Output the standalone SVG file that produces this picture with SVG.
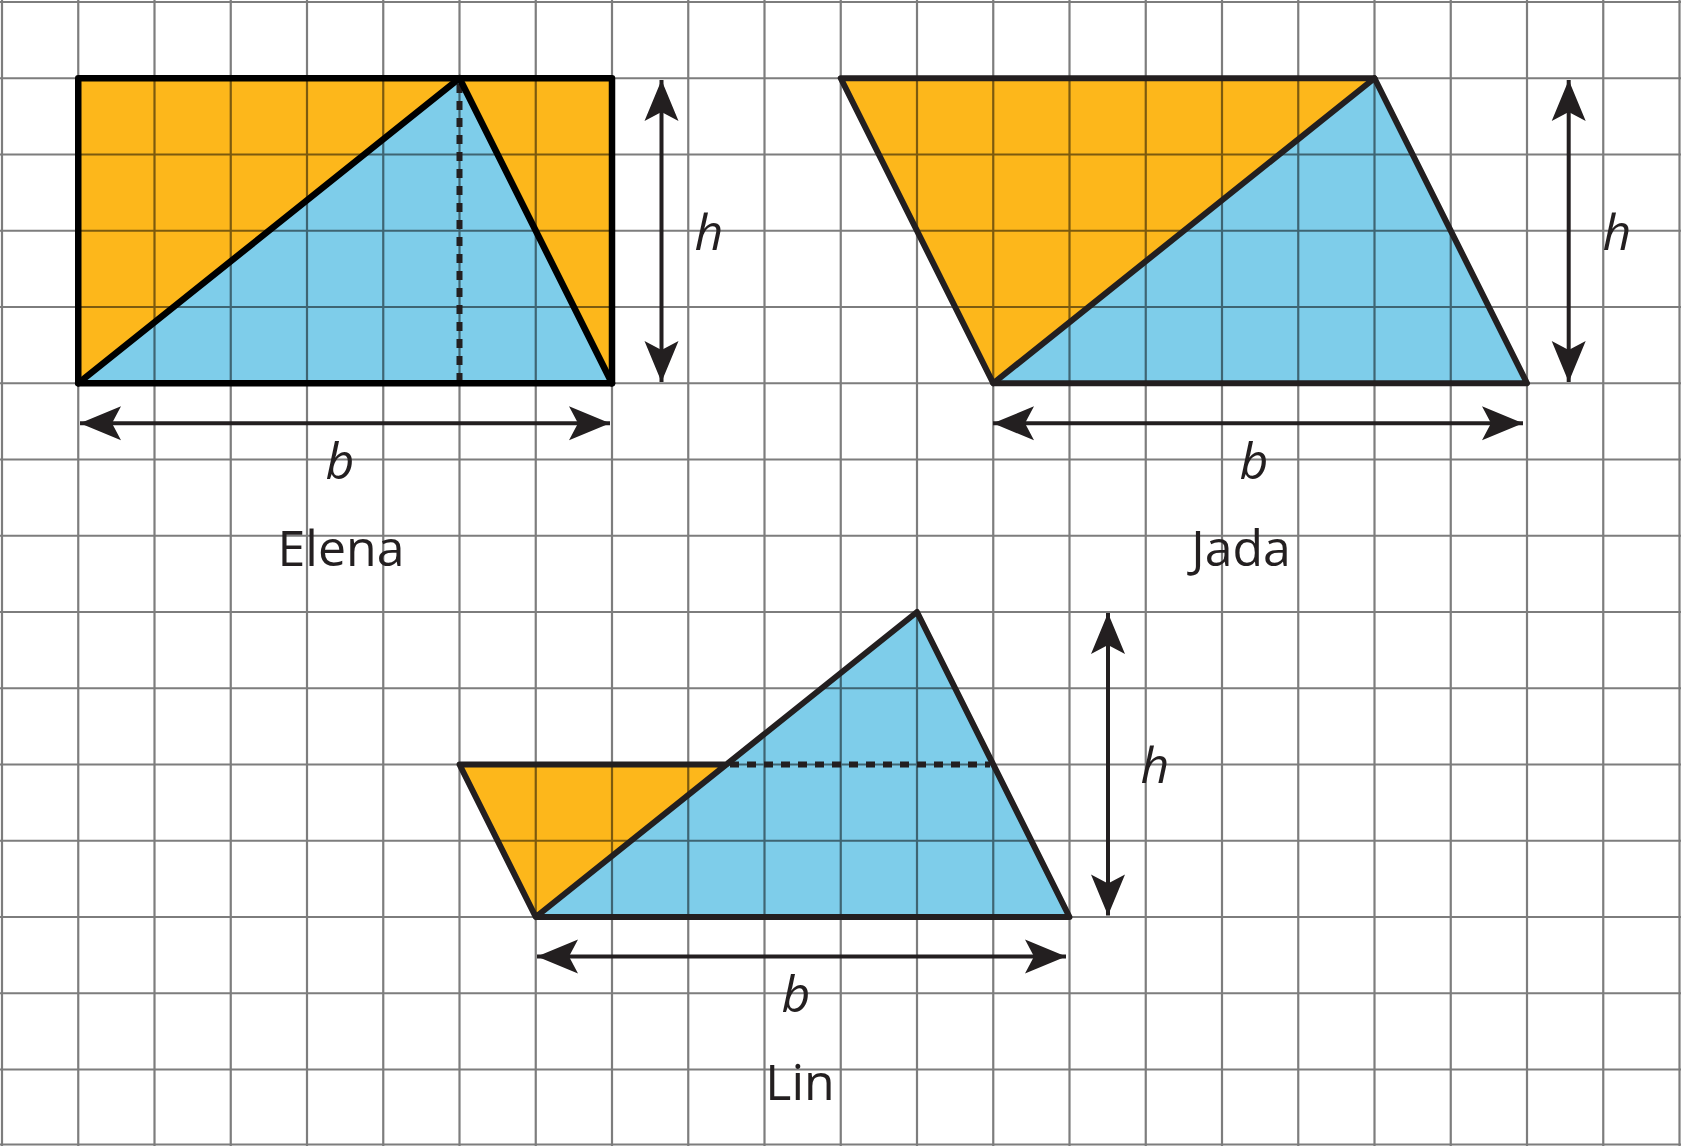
<svg xmlns="http://www.w3.org/2000/svg" width="1681" height="1146" viewBox="0 0 1681 1146">
<style>
.grid line{stroke:#7d7d7d;stroke-width:2.2}
.gridg{mix-blend-mode:multiply}
.orange{fill:#FDB71B;stroke:none}
.blue{fill:#7ECDEA;stroke:none}
.outline{fill:none;stroke:#231f20;stroke-width:6;stroke-linejoin:round;stroke-linecap:round}
.outlineE{fill:none;stroke:#000;stroke-width:6.5;stroke-linejoin:round;stroke-linecap:round}
.dash{fill:none;stroke:#231f20;stroke-width:6;stroke-dasharray:9 8}
.arrow{stroke:#231f20;stroke-width:4;fill:none;marker-start:url(#ah);marker-end:url(#ah)}
.var{font-family:"Open Sans","Liberation Sans",sans-serif;font-style:italic;font-size:50px;fill:#231f20;text-anchor:middle}
.name{font-family:"Open Sans","Liberation Sans",sans-serif;font-size:50px;fill:#231f20;text-anchor:middle}
</style>
<defs>
<marker id="ah" markerUnits="userSpaceOnUse" viewBox="-42 -18 44 36" refX="0" refY="0" markerWidth="44" markerHeight="36" orient="auto-start-reverse">
<path d="M0,0 L-41,-17 L-32,0 L-41,17 Z" fill="#231f20"/>
</marker>
</defs>
<rect x="0" y="0" width="1681" height="1146" fill="#fff"/>
<g id="fills">
<rect class="orange" x="78.25" y="78.25" width="533.75" height="305"/>
<polygon class="blue" points="78.25,383.25 459.5,78.25 612,383.25"/>
<polygon class="orange" points="840.75,78.25 1374.5,78.25 993.25,383.25"/>
<polygon class="blue" points="993.25,383.25 1374.5,78.25 1527,383.25"/>
<polygon class="orange" points="459.5,764.5 726.4,764.5 535.75,917"/>
<polygon class="blue" points="535.75,917 917,612 1069.5,917"/>
</g>
<g class="gridg">
<g class="grid">
<line x1="2" y1="0" x2="2" y2="1146"/>
<line x1="78.25" y1="0" x2="78.25" y2="1146"/>
<line x1="154.5" y1="0" x2="154.5" y2="1146"/>
<line x1="230.75" y1="0" x2="230.75" y2="1146"/>
<line x1="307" y1="0" x2="307" y2="1146"/>
<line x1="383.25" y1="0" x2="383.25" y2="1146"/>
<line x1="459.5" y1="0" x2="459.5" y2="1146"/>
<line x1="535.75" y1="0" x2="535.75" y2="1146"/>
<line x1="612" y1="0" x2="612" y2="1146"/>
<line x1="688.25" y1="0" x2="688.25" y2="1146"/>
<line x1="764.5" y1="0" x2="764.5" y2="1146"/>
<line x1="840.75" y1="0" x2="840.75" y2="1146"/>
<line x1="917" y1="0" x2="917" y2="1146"/>
<line x1="993.25" y1="0" x2="993.25" y2="1146"/>
<line x1="1069.5" y1="0" x2="1069.5" y2="1146"/>
<line x1="1145.75" y1="0" x2="1145.75" y2="1146"/>
<line x1="1222" y1="0" x2="1222" y2="1146"/>
<line x1="1298.25" y1="0" x2="1298.25" y2="1146"/>
<line x1="1374.5" y1="0" x2="1374.5" y2="1146"/>
<line x1="1450.75" y1="0" x2="1450.75" y2="1146"/>
<line x1="1527" y1="0" x2="1527" y2="1146"/>
<line x1="1603.25" y1="0" x2="1603.25" y2="1146"/>
<line x1="1679.5" y1="0" x2="1679.5" y2="1146"/>
<line x1="0" y1="2" x2="1681" y2="2"/>
<line x1="0" y1="78.25" x2="1681" y2="78.25"/>
<line x1="0" y1="154.5" x2="1681" y2="154.5"/>
<line x1="0" y1="230.75" x2="1681" y2="230.75"/>
<line x1="0" y1="307" x2="1681" y2="307"/>
<line x1="0" y1="383.25" x2="1681" y2="383.25"/>
<line x1="0" y1="459.5" x2="1681" y2="459.5"/>
<line x1="0" y1="535.75" x2="1681" y2="535.75"/>
<line x1="0" y1="612" x2="1681" y2="612"/>
<line x1="0" y1="688.25" x2="1681" y2="688.25"/>
<line x1="0" y1="764.5" x2="1681" y2="764.5"/>
<line x1="0" y1="840.75" x2="1681" y2="840.75"/>
<line x1="0" y1="917" x2="1681" y2="917"/>
<line x1="0" y1="993.25" x2="1681" y2="993.25"/>
<line x1="0" y1="1069.5" x2="1681" y2="1069.5"/>
<line x1="0" y1="1144.5" x2="1681" y2="1144.5"/>
</g>
</g>
<g id="elena">
<line class="dash" x1="459.5" y1="84" x2="459.5" y2="380"/>
<rect class="outlineE" x="78.25" y="78.25" width="533.75" height="305"/>
<polyline class="outlineE" points="78.25,383.25 459.5,78.25 612,383.25"/>
<text class="var" x="340" y="479">b</text>
<text class="var" x="709" y="250">h</text>
<text class="name" x="341" y="566">Elena</text>
</g>
<g id="jada">
<polygon class="outline" points="840.75,78.25 1374.5,78.25 1527,383.25 993.25,383.25"/>
<line class="outline" x1="993.25" y1="383.25" x2="1374.5" y2="78.25"/>
<text class="var" x="1254" y="479">b</text>
<text class="var" x="1617" y="250">h</text>
<text class="name" x="1241" y="566">Jada</text>
</g>
<g id="lin">
<line class="dash" x1="730" y1="764.5" x2="990" y2="764.5"/>
<polyline class="outline" points="726.4,764.5 459.5,764.5 535.75,917 1069.5,917 917,612 535.75,917"/>
<text class="var" x="796" y="1012">b</text>
<text class="var" x="1155" y="783">h</text>
<text class="name" x="800" y="1100">Lin</text>
</g>
<g id="connectors">
<line class="arrow" x1="80" y1="423.3" x2="610" y2="423.3"/>
<line class="arrow" x1="661.5" y1="80" x2="661.5" y2="382"/>
<line class="arrow" x1="993" y1="423.3" x2="1523" y2="423.3"/>
<line class="arrow" x1="1568.7" y1="80" x2="1568.7" y2="382"/>
<line class="arrow" x1="537" y1="956.5" x2="1066" y2="956.5"/>
<line class="arrow" x1="1108" y1="613" x2="1108" y2="915.5"/>
</g>
</svg>
